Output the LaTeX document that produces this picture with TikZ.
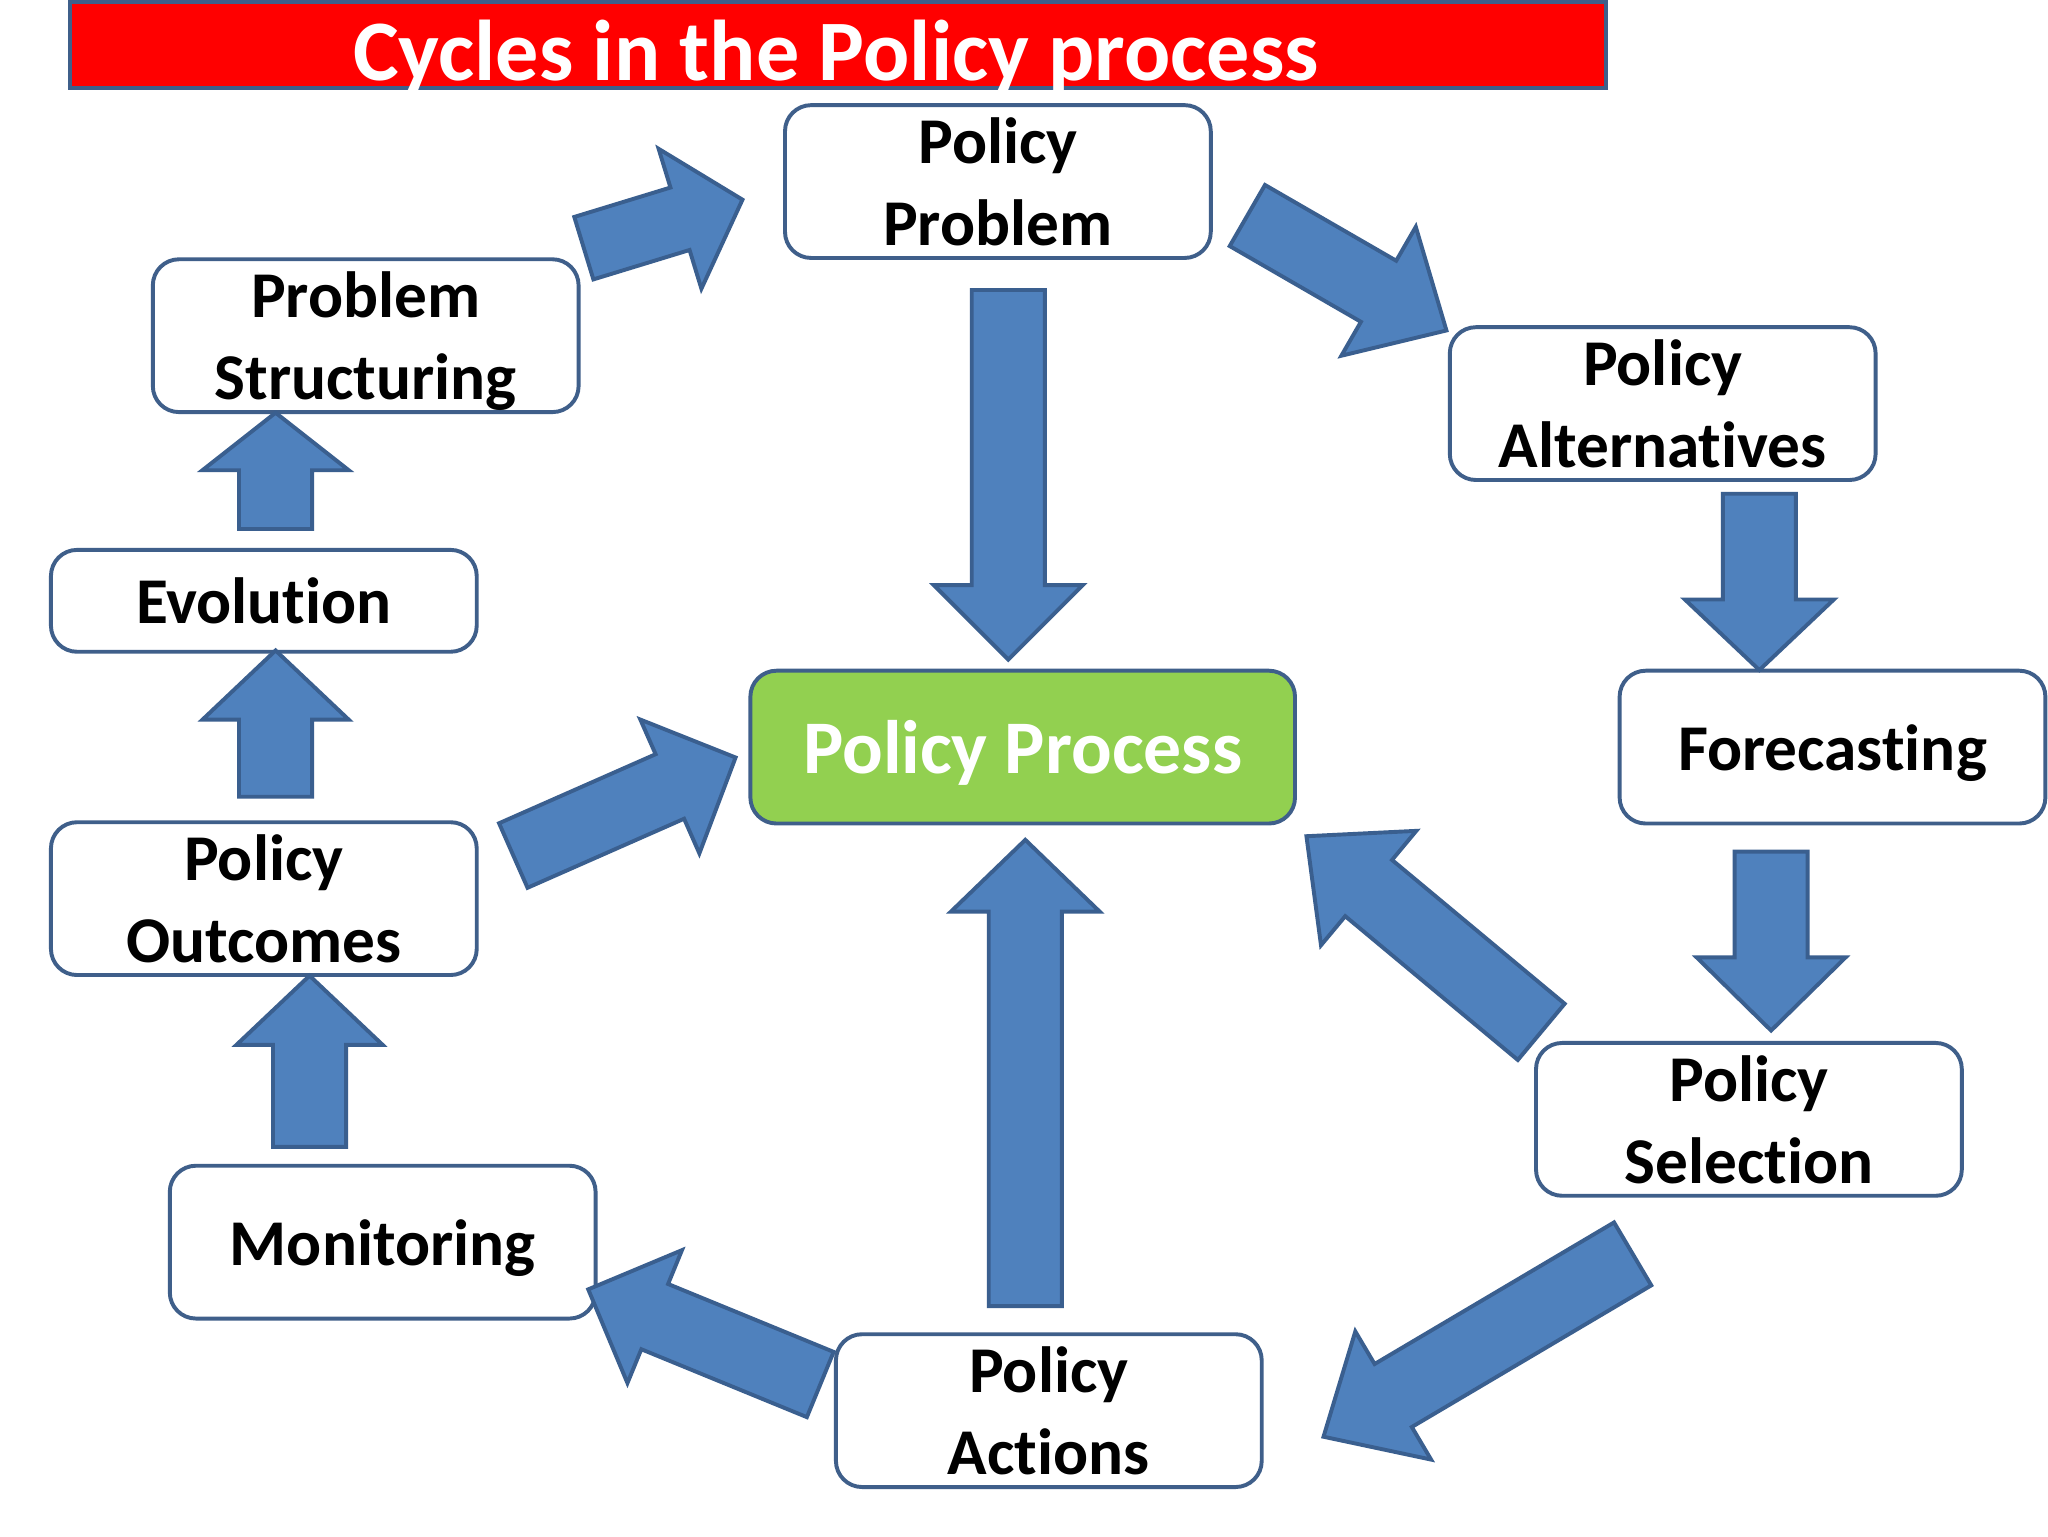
\documentclass[tikz,border=0pt]{standalone}
\usepackage{fontspec}
\setmainfont[Ligatures=NoCommon]{Carlito}
\definecolor{arrfill}{HTML}{4F81BD}
\definecolor{arrline}{HTML}{3A5F8F}
\definecolor{boxline}{HTML}{3F5F8A}
\definecolor{pgreen}{HTML}{92D050}
\newcommand\barrow[6]{\draw[arr,shift={#1},rotate=#2] (0,-#4) -- ({#3-#6},-#4) -- ({#3-#6},-#5) -- (#3,0) -- ({#3-#6},#5) -- ({#3-#6},#4) -- (0,#4) -- cycle;}
\begin{document}
\begin{tikzpicture}[x=1pt,y=-1pt,
  box/.style={draw=boxline,line width=3pt,fill=white,rounded corners=20pt,minimum width=326pt,minimum height=117pt,align=center,font=\fontsize{50}{63}\selectfont\bfseries,text depth=0pt},
  arr/.style={draw=arrline,line width=3pt,fill=arrfill,line join=miter}]
\useasboundingbox (0,0) rectangle (1568,1176);
\fill[white] (0,0) rectangle (1568,1176);
\node[draw=boxline,line width=3pt,fill=red,minimum width=1176pt,minimum height=66pt,anchor=north west,inner sep=0pt] (title) at (52,0) {};
\node[text=white,font=\fontsize{66}{66}\selectfont\bfseries] (tt) at (640,44) {Cycles in the Policy process};
\node[box] (pp) at (764,139) {Policy\\Problem};
\node[box] (ps) at (280,257) {Problem\\Structuring};
\node[box] (pa) at (1273,309) {Policy\\Alternatives};
\node[box,minimum height=78pt] (ev) at (202,460) {Evolution};
\node[box,fill=pgreen,minimum width=417pt,text=white,font=\fontsize{58}{60}\selectfont\bfseries] (proc) at (783,572) {Policy Process};
\node[box] (fc) at (1403,572) {Forecasting};
\node[box] (po) at (202,688) {Policy\\Outcomes};
\node[box] (sel) at (1339,857) {Policy\\Selection};
\node[box] (mon) at (293,951) {Monitoring};
\node[box] (act) at (803,1080) {Policy\\Actions};
% arrows
\barrow{(447,190)}{17}{127}{25}{56}{50}
\barrow{(955,165)}{-30}{176}{27}{57}{60}
\barrow{(772,222)}{-90}{283}{28}{57}{57}
\barrow{(1347,378)}{-90}{135}{28}{57}{54}
\barrow{(1356,652)}{-90}{137}{28}{57}{56}
\barrow{(1180,790)}{140.2}{234}{28}{57}{62}
\barrow{(1250,960)}{210.6}{275}{28}{57}{62}
\barrow{(785,1000)}{90}{357}{28}{57}{55}
\barrow{(628,1060)}{157.7}{192}{27}{55}{55}
\barrow{(237,878)}{90}{131}{28}{56}{53}
\barrow{(393,655)}{23.8}{186}{27}{56}{55}
\barrow{(211,610)}{90}{112}{28}{56}{53}
\barrow{(211,405)}{90}{89}{28}{56}{44}
\end{tikzpicture}
\end{document}
